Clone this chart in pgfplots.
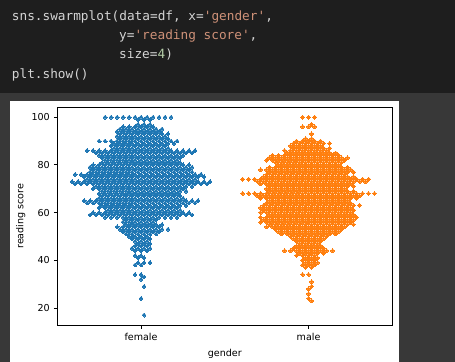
\documentclass[border=0pt]{standalone}
\usepackage{pgfplots}
\pgfplotsset{compat=1.18}
\usepackage{pgfplotstable}
\usepackage{fontspec}
\setmainfont{DejaVu Sans}
\setmonofont{DejaVu Sans Mono}
\definecolor{swblue}{HTML}{1F77B4}
\definecolor{sworange}{HTML}{FF7F0E}
\definecolor{codebg}{HTML}{1E1E1E}
\definecolor{panelbg}{HTML}{383838}
\definecolor{codetxt}{HTML}{D4D4D4}
\definecolor{codestr}{HTML}{CE9178}
\definecolor{codenum}{HTML}{B5CEA8}

% reading score (y) and number of dots in that row (n), read off the swarm
\pgfplotstableread{
y n
100 12
99 3
97 3
96 6
95 8
94 8
93 9
92 9
91 9
90 14
89 11
88 10
87 10
86 19
85 17
84 15
83 14
82 13
81 14
80 17
79 18
78 17
77 18
76 22
75 21
74 19
73 24
72 23
71 17
70 16
69 15
68 14
67 14
66 15
65 20
64 19
63 15
62 14
61 13
60 17
59 18
58 13
57 6
56 6
55 7
54 8
53 9
52 7
51 6
50 4
49 4
48 3
47 3
46 3
45 4
44 3
42 2
41 2
39 3
38 2
34 2
33 1
32 1
29 1
24 1
17 1
}\femtab

\pgfplotstableread{
y n
100 3
97 1
96 3
93 1
91 2
90 5
89 7
88 6
87 7
86 8
85 9
84 12
83 14
82 14
81 12
80 11
79 14
78 16
77 15
76 14
75 16
74 22
73 19
72 16
71 15
70 14
69 15
68 23
67 18
66 17
65 14
64 15
63 17
62 16
61 16
60 16
59 15
58 17
57 16
56 16
55 15
54 14
53 12
52 11
51 10
50 7
49 6
48 5
47 4
46 5
45 6
44 9
43 5
42 4
41 3
40 3
39 3
38 3
37 2
34 2
31 1
29 1
28 1
26 1
24 1
23 1
}\maletab

% lay the dots of each row out side by side (swarm layout)
\newcommand\swarmcoords[4]{%
  \gdef#4{}%
  \pgfplotstablegetrowsof{#1}%
  \pgfmathtruncatemacro\swnrows{\pgfplotsretval-1}%
  \foreach \r in {0,...,\swnrows}{%
    \pgfplotstablegetelem{\r}{y}\of{#1}\let\swy\pgfplotsretval
    \pgfplotstablegetelem{\r}{n}\of{#1}\let\swn\pgfplotsretval
    \pgfmathtruncatemacro\swpar{mod(\swy,2)}%
    \foreach \k in {1,...,\swn}{%
      \pgfmathsetmacro\swx{#2+#3*(((mod(\k,2)==1) ? ((\k-1)/2) : (0-\k/2))+0.5*\swpar)}%
      \xdef#4{#4 (\swx,\swy)}%
    }%
  }%
}
\swarmcoords{\femtab}{0}{0.0358}{\femcoords}%
\swarmcoords{\maletab}{1}{0.0358}{\malecoords}%

\begin{document}
\begin{tikzpicture}
\useasboundingbox (0,0) rectangle (455bp,362bp);
\fill[panelbg] (0,0) rectangle (455bp,362bp);
\fill[codebg] (0,269.3bp) rectangle (455bp,362bp);
\fill[white] (9.5bp,0) rectangle (399bp,261.3bp);
\begin{scope}[every node/.style={anchor=base west, inner sep=0pt, text=codetxt, font=\ttfamily\fontsize{12.8}{15}\selectfont}]
\node at (11.7bp,341.5bp) {sns.swarmplot(data=df, x=\textcolor{codestr}{'gender'},};
\node at (119bp,322.3bp) {y=\textcolor{codestr}{'reading score'},};
\node at (119bp,303.1bp) {size=\textcolor{codenum}{4})};
\node at (11.7bp,283.9bp) {plt.show()};
\end{scope}
\begin{axis}[
  scale only axis,
  width=335bp, height=217.7bp,
  at={(57.3bp,37bp)}, anchor=south west,
  xmin=-0.5, xmax=1.5, ymin=12.85, ymax=104.15,
  xtick={0,1}, xticklabels={female,male},
  ytick={20,40,60,80,100},
  xtick pos=left, ytick pos=left,
  tick align=outside,
  major tick length=3.5bp,
  axis line style={black, line width=0.8pt},
  every tick/.style={black, line width=0.8pt},
  tick label style={font=\fontsize{9.6}{11}\selectfont, text=black},
  /pgf/number format/assume math mode=true,
  xticklabel style={anchor=center, yshift=-8.3bp, inner sep=0pt},
  yticklabel style={anchor=east, xshift=-3.8bp, inner sep=0pt},
  every axis x label/.style={at={(axis description cs:0.5,-0.131)}, anchor=center, font=\fontsize{9.6}{11}\selectfont},
  every axis y label/.style={at={(axis description cs:-0.1093,0.5)}, anchor=center, rotate=90, font=\fontsize{9.6}{11}\selectfont},
  xlabel=gender, ylabel=reading score,
]
\edef\plotfem{\noexpand\addplot[only marks, mark=*, mark size=1.95pt, color=swblue, mark options={line width=0pt}] coordinates {\femcoords};}\plotfem
\edef\plotmale{\noexpand\addplot[only marks, mark=*, mark size=1.95pt, color=sworange, mark options={line width=0pt}] coordinates {\malecoords};}\plotmale
\end{axis}
\end{tikzpicture}
\end{document}
